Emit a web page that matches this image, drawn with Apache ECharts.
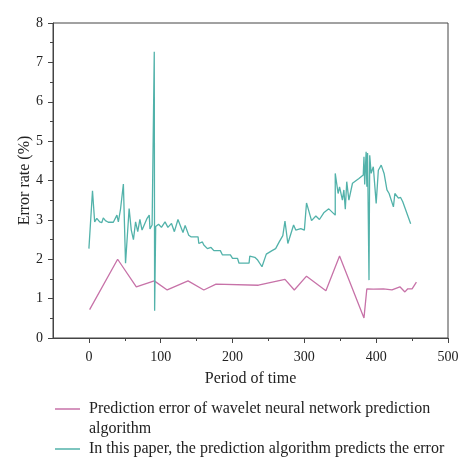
<!DOCTYPE html>
<html>
<head>
<meta charset="utf-8">
<script src="https://cdn.jsdelivr.net/npm/echarts@6/dist/echarts.min.js"></script>
<style>
  html, body { margin: 0; padding: 0; background: #fff; }
  #chart { width: 474px; height: 474px; }
</style>
</head>
<body>
<div id="chart"></div>
<script>
// wavelet neural network
var waveT = [1, 40, 66, 91, 109, 138, 160, 177, 236, 273, 286, 303, 330, 349, 383, 387, 396, 410, 422, 433, 440, 444, 450, 456]
var waveV = [0.72, 2.0, 1.3, 1.45, 1.22, 1.45, 1.22, 1.37, 1.34, 1.49, 1.22, 1.57, 1.2, 2.08, 0.51, 1.25, 1.24, 1.25, 1.22, 1.3, 1.17, 1.25, 1.25, 1.42]
// this paper
var paperT = [0, 5, 8, 11, 15, 18, 20, 23, 27, 34, 39, 41, 44, 48, 51, 56, 59, 62, 65, 68, 71, 74, 77, 81, 84, 85, 88, 91, 91.5, 93, 97, 101, 106, 110, 115, 119, 124, 131, 134, 139, 142, 152, 153, 158, 160, 165, 170, 174, 183, 186, 197, 200, 207, 209, 223, 224, 231, 235, 241, 247, 255, 260, 265, 270, 273, 277, 285, 288, 295, 300, 303, 310, 316, 321, 327, 334, 343, 343, 347, 349, 353, 355, 357, 359, 362, 367, 376, 382, 383, 384, 386, 387, 388, 390, 391, 393, 396, 400, 403, 407, 411, 415, 418, 424, 426, 431, 434, 437, 448]
var paperV = [2.27, 3.74, 2.95, 3.04, 2.95, 2.93, 3.05, 2.98, 2.94, 2.94, 3.12, 2.95, 3.27, 3.91, 1.9, 3.29, 2.74, 2.5, 2.95, 2.7, 3.01, 2.74, 2.87, 3.04, 3.12, 2.77, 2.87, 7.27, 0.69, 2.83, 2.89, 2.81, 2.95, 2.81, 2.91, 2.7, 3.01, 2.68, 2.86, 2.61, 2.57, 2.57, 2.4, 2.44, 2.36, 2.27, 2.3, 2.22, 2.22, 2.11, 2.11, 2.02, 2.02, 1.9, 1.9, 2.08, 2.05, 1.98, 1.81, 2.13, 2.22, 2.27, 2.44, 2.6, 2.97, 2.4, 2.87, 2.74, 2.78, 2.74, 3.43, 2.98, 3.1, 3.01, 3.18, 3.28, 3.12, 4.18, 3.67, 3.84, 3.5, 3.76, 3.27, 3.97, 3.5, 3.93, 4.05, 4.14, 4.6, 3.9, 4.73, 3.84, 4.7, 1.47, 4.64, 4.18, 4.35, 3.42, 4.26, 4.39, 4.18, 3.76, 3.67, 3.33, 3.67, 3.55, 3.57, 3.46, 2.9]
var xMajor = [0, 100, 200, 300, 400, 500]
var xMinor = [50, 150, 250, 350, 450]

var nameWave = 'Prediction error of wavelet neural network prediction algorithm'
var namePaper = 'In this paper, the prediction algorithm predicts the error'

function pairs(t, v) {
  var out = []
  for (var i = 0; i < t.length; i++) {
    out.push([t[i], v[i]])
  }
  return out
}

var font = 'Liberation Serif'
var ink = '#222'
var axisColor = '#444'
var pink = '#c772a8'
var teal = '#52b2aa'
var myChart = echarts.init(document.getElementById('chart'))
var option = {
  animation: false,
  textStyle: { fontFamily: font, color: ink },
  grid: {
    left: 53, right: 26, top: 23, bottom: 136,
    show: true, borderColor: axisColor, borderWidth: 1
  },
  legend: [
    {
      data: [nameWave],
      left: 55, top: 379, padding: 0, orient: 'vertical',
      icon: 'rect', itemWidth: 25, itemHeight: 1.5,
      // blank first line keeps the marker on the first text line
      formatter: function() {
        return '\nPrediction error of wavelet neural network prediction\nalgorithm'
      },
      textStyle: { fontFamily: font, fontSize: 16, color: ink, lineHeight: 20, padding: [0, 0, 0, 4] }
    },
    {
      data: [namePaper],
      left: 55, top: 439, padding: 0, orient: 'vertical',
      icon: 'rect', itemWidth: 25, itemHeight: 1.5,
      textStyle: { fontFamily: font, fontSize: 16, color: ink, lineHeight: 20, padding: [0, 0, 0, 4] }
    }
  ],
  xAxis: [
    {
      type: 'value', min: -50, max: 500,
      name: 'Period of time', nameLocation: 'middle', nameGap: 33,
      nameTextStyle: { fontFamily: font, fontSize: 16, color: ink },
      axisLine: { onZero: false, lineStyle: { color: axisColor } },
      axisTick: { show: true, length: 5, customValues: xMajor, lineStyle: { color: axisColor } },
      axisLabel: { customValues: xMajor, fontFamily: font, fontSize: 14, color: ink, margin: 12 },
      splitLine: { show: false }
    },
    {
      type: 'value', min: -50, max: 500, position: 'bottom',
      axisLine: { show: false, onZero: false },
      axisTick: { show: true, length: 3, customValues: xMinor, lineStyle: { color: axisColor } },
      axisLabel: { show: false },
      splitLine: { show: false }
    }
  ],
  yAxis: {
    type: 'value', min: 0, max: 8, interval: 1,
    name: 'Error rate (%)', nameLocation: 'middle', nameGap: 20,
    nameMoveOverlap: false,
    nameTextStyle: { fontFamily: font, fontSize: 16, color: ink },
    axisLine: { show: true, onZero: false, lineStyle: { color: axisColor } },
    axisTick: { show: true, length: 5, lineStyle: { color: axisColor } },
    minorTick: { show: true, splitNumber: 2, length: 3, lineStyle: { color: axisColor } },
    axisLabel: { fontFamily: font, fontSize: 14, color: ink, margin: 10 },
    splitLine: { show: false }
  },
  series: [
    {
      name: nameWave, type: 'line', symbol: 'none',
      lineStyle: { color: pink, width: 1.3 },
      itemStyle: { color: pink },
      data: pairs(waveT, waveV)
    },
    {
      name: namePaper, type: 'line', symbol: 'none',
      lineStyle: { color: teal, width: 1.3 },
      itemStyle: { color: teal },
      data: pairs(paperT, paperV)
    }
  ]
}
myChart.setOption(option)
</script>
</body>
</html>
